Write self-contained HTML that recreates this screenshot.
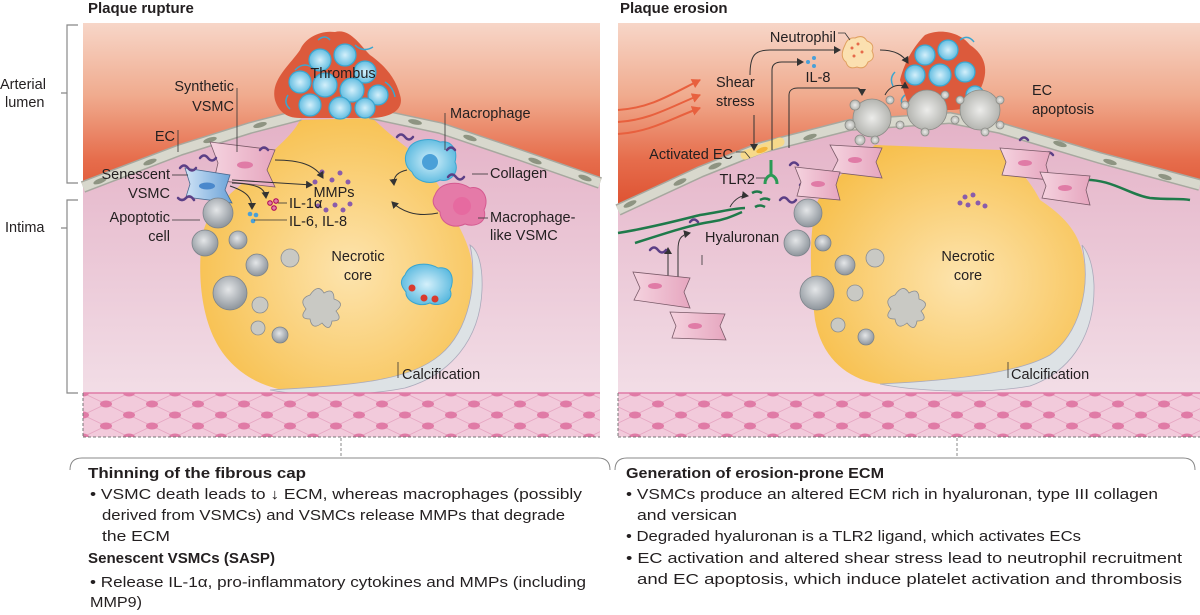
<!DOCTYPE html>
<html><head><meta charset="utf-8"><style>
html,body{margin:0;padding:0;background:#fff}
svg{display:block}
text{font-family:"Liberation Sans",sans-serif;fill:#231f20}
.l{font-size:14.5px}
.b{font-size:15px;font-weight:bold}
.t{font-size:14.5px}
</style></head><body>
<svg width="1200" height="615" viewBox="0 0 1200 615" xmlns="http://www.w3.org/2000/svg">
<defs>
<linearGradient id="lum" gradientUnits="userSpaceOnUse" x1="0" y1="23" x2="0" y2="205">
<stop offset="0" stop-color="#f7d6c8"/><stop offset="0.4" stop-color="#f0ab8e"/><stop offset="0.75" stop-color="#e66d4c"/><stop offset="1" stop-color="#de5232"/></linearGradient>
<linearGradient id="int" gradientUnits="userSpaceOnUse" x1="0" y1="120" x2="0" y2="393">
<stop offset="0" stop-color="#e4b2c7"/><stop offset="1" stop-color="#f2dde6"/></linearGradient>
<radialGradient id="core" cx="0.55" cy="0.55" r="0.6">
<stop offset="0" stop-color="#fde4ae"/><stop offset="1" stop-color="#f7c04e"/></radialGradient>
<radialGradient id="gc" cx="0.45" cy="0.4" r="0.6">
<stop offset="0" stop-color="#e4e6e8"/><stop offset="1" stop-color="#8e959c"/></radialGradient>
<radialGradient id="wc" cx="0.5" cy="0.5" r="0.6">
<stop offset="0" stop-color="#ececea"/><stop offset="1" stop-color="#a9aaa5"/></radialGradient>
<radialGradient id="bc" cx="0.5" cy="0.5" r="0.6">
<stop offset="0" stop-color="#d4f0fb"/><stop offset="1" stop-color="#4fb4dc"/></radialGradient>
<linearGradient id="vs" x1="0" y1="0" x2="1" y2="0">
<stop offset="0" stop-color="#f5d3df"/><stop offset="1" stop-color="#e6a6bf"/></linearGradient>
<linearGradient id="vb" x1="0" y1="0" x2="1" y2="0">
<stop offset="0" stop-color="#cfe3f6"/><stop offset="1" stop-color="#6aa2d8"/></linearGradient>
<pattern id="med" x="83" y="393" width="46" height="22" patternUnits="userSpaceOnUse">
<rect width="46" height="22" fill="#f2cadb"/>
<path d="M0,0 L23,11 L46,0 M0,22 L23,11 L46,22" stroke="#e6a6c2" stroke-width="0.8" fill="none"/>
<ellipse cx="23" cy="11" rx="6" ry="3.5" fill="#e07ba6"/>
<ellipse cx="0" cy="0" rx="6" ry="3.5" fill="#e07ba6"/><ellipse cx="46" cy="0" rx="6" ry="3.5" fill="#e07ba6"/>
<ellipse cx="0" cy="22" rx="6" ry="3.5" fill="#e07ba6"/><ellipse cx="46" cy="22" rx="6" ry="3.5" fill="#e07ba6"/>
</pattern>
<marker id="ar" markerWidth="8" markerHeight="8" refX="6" refY="4" orient="auto" markerUnits="userSpaceOnUse">
<path d="M0,0 L7,4 L0,8 z" fill="#333"/></marker>
<marker id="ro" markerWidth="10" markerHeight="10" refX="8" refY="5" orient="auto" markerUnits="userSpaceOnUse">
<path d="M0,0 L9,5 L0,10 z" fill="#e8603e"/></marker>
</defs>

<text x="88" y="13" class="b">Plaque rupture</text>
<text x="620" y="13" class="b">Plaque erosion</text>

<text x="0" y="89" class="l">Arterial</text>
<text x="5" y="107" class="l">lumen</text>
<path d="M61,93 H67 M78,25 H67 V183 H78" stroke="#888" fill="none" stroke-width="1.2"/>
<text x="5" y="232" class="l">Intima</text>
<path d="M61,228 H67 M78,200 H67 V393 H78" stroke="#888" fill="none" stroke-width="1.2"/>

<!-- LEFT PANEL -->
<rect x="83" y="23" width="517" height="370" fill="url(#lum)"/>
<path d="M83,187 L180,150 L250,128 L300,115 L370,113 L440,128 L520,155 L600,183 L600,393 L83,393 Z" fill="url(#int)"/>
<path d="M300,120 C290,140 270,150 262,165 C240,190 205,205 202,240 C198,270 200,310 215,340 C230,370 260,390 300,392 C340,395 390,395 420,380 C455,360 470,320 472,280 C475,250 460,230 448,205 C438,180 425,165 410,150 C390,135 380,125 372,118 Z" fill="url(#core)"/>
<path d="M470,245 C478,280 470,330 440,355 C410,380 360,385 270,390 C300,396 360,397 405,388 C450,375 480,340 482,290 C483,265 478,250 470,245 Z" fill="#dde2e5" stroke="#aab" stroke-width="0.8"/>
<rect x="83" y="393" width="517" height="44" fill="url(#med)"/>
<line x1="83" y1="393" x2="600" y2="393" stroke="#e07ba6" stroke-width="1.5"/>
<path d="M83,187 L180,150 L250,128 L300,115 M370,113 L440,128 L520,155 L600,183" stroke="#a7a89f" stroke-width="12" fill="none"/>
<path d="M83,187 L180,150 L250,128 L300,115 M370,113 L440,128 L520,155 L600,183" stroke="#d8d8cd" stroke-width="9" fill="none"/>
<g fill="#8e9482">
<ellipse cx="100" cy="181" rx="7" ry="2.5" transform="rotate(-21 100 181)"/>
<ellipse cx="150" cy="162" rx="7" ry="2.5" transform="rotate(-21 150 162)"/>
<ellipse cx="210" cy="140" rx="7" ry="2.5" transform="rotate(-17 210 140)"/>
<ellipse cx="260" cy="125" rx="7" ry="2.5" transform="rotate(-15 260 125)"/>
<ellipse cx="415" cy="122" rx="7" ry="2.5" transform="rotate(12 415 122)"/>
<ellipse cx="470" cy="138" rx="7" ry="2.5" transform="rotate(18 470 138)"/>
<ellipse cx="535" cy="161" rx="7" ry="2.5" transform="rotate(20 535 161)"/>
<ellipse cx="585" cy="178" rx="7" ry="2.5" transform="rotate(20 585 178)"/>
</g>
<path d="M275,100 C270,80 290,65 300,50 C305,38 320,30 335,32 C350,28 360,45 370,55 C380,62 395,75 400,95 C405,110 390,118 370,118 L300,118 C285,118 278,110 275,100 Z" fill="#dc5a3c"/>
<g fill="url(#bc)" stroke="#3aa6d0" stroke-width="1.2">
<circle cx="320" cy="60" r="11"/><circle cx="345" cy="55" r="11"/><circle cx="365" cy="72" r="11"/>
<circle cx="300" cy="82" r="11"/><circle cx="325" cy="85" r="12"/><circle cx="352" cy="90" r="12"/>
<circle cx="378" cy="95" r="10"/><circle cx="310" cy="105" r="11"/><circle cx="340" cy="108" r="11"/><circle cx="365" cy="108" r="10"/>
</g>
<g stroke="#3aa6d0" stroke-width="1.5" fill="none">
<path d="M295,70 q10,-10 20,0 M355,45 q8,8 18,2 M385,82 q8,5 10,15 M288,95 q-5,8 2,14 M330,40 q-5,-6 -12,0"/>
</g>
<path d="M210,142 L275,150 L267,170 L275,187 L214,180 L218,163 Z" fill="url(#vs)" stroke="#7a5a68" stroke-width="0.8"/>
<ellipse cx="245" cy="165" rx="8" ry="3.5" fill="#e07ba6"/>
<path d="M185,168 L230,175 L225,190 L232,203 L186,197 L190,184 Z" fill="url(#vb)" stroke="#4a6a90" stroke-width="0.8"/>
<ellipse cx="207" cy="186" rx="8" ry="3.5" fill="#4a88cc"/>
<path d="M408,150 C412,140 428,137 440,142 C452,140 458,150 455,162 C460,172 450,183 440,180 C428,186 415,180 412,172 C404,166 404,156 408,150 Z" fill="url(#bc)" stroke="#3aa6d0"/>
<circle cx="430" cy="162" r="8" fill="#4aa0d8"/>
<path d="M435,195 C440,182 458,180 470,188 C482,185 490,198 484,210 C488,222 475,228 465,224 C452,230 440,222 440,212 C432,206 432,200 435,195 Z" fill="#e57aa8" stroke="#d45a90"/>
<circle cx="462" cy="206" r="9" fill="#e66aa0"/>
<path d="M405,275 C410,262 428,262 438,268 C452,266 455,280 450,290 C455,300 440,308 430,303 C418,308 405,300 406,292 C400,285 400,280 405,275 Z" fill="url(#bc)" stroke="#3aa6d0"/>
<circle cx="412" cy="288" r="3.5" fill="#d93b2e"/><circle cx="424" cy="298" r="3.5" fill="#d93b2e"/><circle cx="435" cy="299" r="3.5" fill="#d93b2e"/>
<g fill="url(#gc)" stroke="#7b838a" stroke-width="0.8">
<circle cx="218" cy="213" r="15"/><circle cx="205" cy="243" r="13"/><circle cx="238" cy="240" r="9"/>
<circle cx="257" cy="265" r="11"/><circle cx="230" cy="293" r="17"/><circle cx="280" cy="335" r="8"/>
</g>
<g fill="#c9c9c4" stroke="#8a8d90" stroke-width="0.8">
<circle cx="290" cy="258" r="9"/><circle cx="260" cy="305" r="8"/><circle cx="258" cy="328" r="7"/>
<path d="M310,295 q8,-12 14,-2 q10,-6 10,6 q12,4 2,12 q8,10 -4,10 q-2,12 -10,2 q-10,8 -12,-4 q-12,0 -4,-10 q-8,-10 4,-14 z"/>
</g>
<g stroke="#5b3f86" stroke-width="2.5" fill="none" stroke-linecap="round">
<path d="M180,168 q4,-5 8,0 q4,5 8,0"/><path d="M200,158 q4,-5 8,0 q4,5 8,0"/><path d="M260,150 q4,-5 8,0"/>
<path d="M178,198 q4,4 8,0 q4,-4 8,2"/><path d="M397,137 q4,-5 8,0 q4,5 8,0"/><path d="M447,150 q4,-5 8,0"/><path d="M448,177 q4,-5 8,0 q4,5 8,0"/>
</g>
<g fill="#8a5cab"><circle cx="322" cy="172" r="2.5"/><circle cx="332" cy="180" r="2.5"/><circle cx="340" cy="173" r="2.5"/><circle cx="348" cy="182" r="2.5"/><circle cx="315" cy="182" r="2.5"/>
<circle cx="318" cy="206" r="2.5"/><circle cx="326" cy="210" r="2.5"/><circle cx="335" cy="205" r="2.5"/><circle cx="343" cy="210" r="2.5"/><circle cx="350" cy="204" r="2.5"/></g>
<g fill="#e07ba6" stroke="#a05"><circle cx="270" cy="203" r="2.3"/><circle cx="276" cy="201" r="2.3"/><circle cx="274" cy="208" r="2.3"/></g>
<g fill="#4aa0d8"><circle cx="250" cy="214" r="2.3"/><circle cx="256" cy="215" r="2.3"/><circle cx="253" cy="221" r="2.3"/></g>
<g stroke="#333" stroke-width="1" fill="none">
<path d="M275,160 C300,160 315,165 323,178" marker-end="url(#ar)"/>
<path d="M232,180 L312,185" marker-end="url(#ar)"/>
<path d="M232,183 C258,184 265,188 266,198" marker-end="url(#ar)"/>
<path d="M230,186 C248,192 252,198 252,209" marker-end="url(#ar)"/>
<path d="M407,170 C398,172 393,176 394,185" marker-end="url(#ar)"/>
<path d="M438,213 C415,218 400,210 392,202" marker-end="url(#ar)"/>
</g>
<g stroke="#333" stroke-width="0.8" fill="none">
<path d="M237,88 V152"/><path d="M178,130 V152"/><path d="M172,175 H188"/><path d="M172,220 H200"/>
<path d="M278,203 H287"/><path d="M254,220 H287"/><path d="M445,113 V150"/><path d="M472,174 H488"/><path d="M478,218 H488"/><path d="M398,362 V378"/>
</g>
<text x="343" y="78" class="l" text-anchor="middle">Thrombus</text>
<text x="234" y="91" class="l" text-anchor="end">Synthetic</text>
<text x="234" y="111" class="l" text-anchor="end">VSMC</text>
<text x="175" y="141" class="l" text-anchor="end">EC</text>
<text x="170" y="179" class="l" text-anchor="end">Senescent</text>
<text x="170" y="198" class="l" text-anchor="end">VSMC</text>
<text x="170" y="222" class="l" text-anchor="end">Apoptotic</text>
<text x="170" y="241" class="l" text-anchor="end">cell</text>
<text x="289" y="208" class="l">IL-1α</text>
<text x="289" y="226" class="l">IL-6, IL-8</text>
<text x="334" y="197" class="l" text-anchor="middle">MMPs</text>
<text x="450" y="118" class="l">Macrophage</text>
<text x="490" y="178" class="l">Collagen</text>
<text x="490" y="222" class="l">Macrophage-</text>
<text x="490" y="240" class="l">like VSMC</text>
<text x="358" y="261" class="l" text-anchor="middle">Necrotic</text>
<text x="358" y="280" class="l" text-anchor="middle">core</text>
<text x="402" y="379" class="l">Calcification</text>
<line x1="83" y1="437" x2="600" y2="437" stroke="#777" stroke-dasharray="3,2"/>
<line x1="83" y1="393" x2="83" y2="437" stroke="#777" stroke-dasharray="3,2"/>

<!-- RIGHT PANEL -->
<rect x="618" y="23" width="582" height="370" fill="url(#lum)"/>
<path d="M618,210 L700,172 L760,148 L850,125 L950,118 L1000,128 L1100,158 L1200,185 L1200,393 L618,393 Z" fill="url(#int)"/>
<path d="M875,145 C850,165 830,185 818,200 C808,230 810,280 815,320 C822,360 850,380 880,384 C930,392 990,392 1030,380 C1070,365 1085,320 1085,280 C1086,240 1070,220 1040,200 C1030,180 1015,165 1000,150 Z" fill="url(#core)"/>
<path d="M1082,245 C1092,290 1078,335 1050,355 C1020,372 960,380 880,384 C920,392 985,394 1030,386 C1075,370 1095,330 1094,285 C1093,265 1088,252 1082,245 Z" fill="#dde2e5" stroke="#aab" stroke-width="0.8"/>
<rect x="618" y="393" width="582" height="44" fill="url(#med)"/>
<line x1="618" y1="393" x2="1200" y2="393" stroke="#e07ba6" stroke-width="1.5"/>
<path d="M618,210 L700,172 L760,148 L850,125 L950,118 L1000,128 L1100,158 L1200,185" stroke="#a7a89f" stroke-width="12" fill="none"/>
<path d="M618,210 L700,172 L760,148 L850,125 L950,118 L1000,128 L1100,158 L1200,185" stroke="#d8d8cd" stroke-width="9" fill="none"/>
<path d="M745,155 L780,142" stroke="#f7d98a" stroke-width="9" stroke-linecap="round"/>
<ellipse cx="762" cy="150" rx="6" ry="2.5" fill="#f4b53a" transform="rotate(-20 762 150)"/>
<g fill="#8e9482">
<ellipse cx="630" cy="204" rx="7" ry="2.5" transform="rotate(-25 630 204)"/>
<ellipse cx="680" cy="182" rx="7" ry="2.5" transform="rotate(-25 680 182)"/>
<ellipse cx="715" cy="166" rx="7" ry="2.5" transform="rotate(-22 715 166)"/>
<ellipse cx="810" cy="137" rx="7" ry="2.5" transform="rotate(-18 810 137)"/>
<ellipse cx="1060" cy="144" rx="7" ry="2.5" transform="rotate(17 1060 144)"/>
<ellipse cx="1110" cy="162" rx="7" ry="2.5" transform="rotate(17 1110 162)"/>
<ellipse cx="1165" cy="177" rx="7" ry="2.5" transform="rotate(17 1165 177)"/>
</g>
<path d="M900,80 C905,60 915,45 925,35 C940,28 960,32 970,45 C985,55 990,70 980,90 C975,105 965,110 950,110 L910,110 Z" fill="#dc5a3c"/>
<g fill="url(#bc)" stroke="#3aa6d0" stroke-width="1.2">
<circle cx="925" cy="55" r="10"/><circle cx="948" cy="50" r="10"/><circle cx="915" cy="75" r="10"/><circle cx="940" cy="75" r="11"/><circle cx="965" cy="72" r="10"/><circle cx="975" cy="95" r="9"/>
</g>
<g stroke="#3aa6d0" stroke-width="1.5" fill="none"><path d="M895,72 q-6,6 -2,14 M985,100 q8,5 5,12 M960,40 q8,-6 14,2 M905,95 q-6,5 -2,10"/></g>
<g fill="url(#wc)" stroke="#8b8c87" stroke-width="0.8">
<circle cx="872" cy="118" r="19"/><circle cx="927" cy="110" r="20"/><circle cx="980" cy="110" r="20"/>
<circle cx="855" cy="105" r="5"/><circle cx="850" cy="125" r="5"/><circle cx="860" cy="140" r="5"/><circle cx="890" cy="100" r="4"/><circle cx="900" cy="125" r="4"/>
<circle cx="905" cy="105" r="4"/><circle cx="945" cy="95" r="4"/><circle cx="955" cy="120" r="4"/><circle cx="960" cy="100" r="4"/><circle cx="1000" cy="100" r="4"/><circle cx="1000" cy="125" r="4"/><circle cx="985" cy="132" r="4"/><circle cx="925" cy="132" r="4"/><circle cx="875" cy="140" r="4"/>
</g>
<path d="M845,45 q3,-8 10,-7 q8,-4 12,3 q8,3 5,10 q4,8 -4,11 q-3,8 -11,5 q-9,3 -11,-5 q-7,-5 -1,-17 z" fill="#fbe0b0" stroke="#e0a060"/>
<g fill="#e66a4a"><circle cx="852" cy="48" r="1.5"/><circle cx="858" cy="44" r="1.5"/><circle cx="862" cy="52" r="1.5"/><circle cx="854" cy="56" r="1.5"/></g>
<g stroke="#e8603e" stroke-width="2" fill="none">
<path d="M618,110 C650,108 670,95 700,80" marker-end="url(#ro)"/>
<path d="M618,122 C650,120 670,107 700,95" marker-end="url(#ro)"/>
<path d="M618,134 C650,132 670,119 700,108" marker-end="url(#ro)"/>
</g>
<g stroke="#333" stroke-width="1" fill="none">
<path d="M750,75 C750,55 755,50 770,50 L840,50" marker-end="url(#ar)"/>
<path d="M754,115 V150" marker-end="url(#ar)"/>
<path d="M772,150 V70 C772,64 776,62 782,62 L803,62" marker-end="url(#ar)"/>
<path d="M789,148 V95 C789,90 793,88 798,88 L857,88 C860,88 862,92 862,95" marker-end="url(#ar)"/>
<path d="M880,50 C895,50 903,55 908,63" marker-end="url(#ar)"/>
<path d="M885,95 C890,85 900,83 908,88" marker-end="url(#ar)"/>
<path d="M668,280 V248" marker-end="url(#ar)"/>
<path d="M678,280 V250 C678,240 680,235 690,233" marker-end="url(#ar)"/>
<path d="M730,207 C735,198 742,195 748,196" marker-end="url(#ar)"/>
</g>
<g fill="#4aa0d8"><circle cx="808" cy="62" r="2"/><circle cx="814" cy="58" r="2"/><circle cx="814" cy="66" r="2"/></g>
<path d="M771,160 V175 M771,175 q-6,2 -6,9 M771,175 q6,2 6,9" stroke="#2a9a55" stroke-width="3" fill="none"/>
<g stroke="#1f7a4a" stroke-width="2.5" fill="none">
<path d="M618,233 C650,228 680,220 700,215 C720,212 735,208 745,208"/>
<path d="M635,243 C660,235 690,225 710,222 C725,220 735,215 742,212"/>
<path d="M1082,180 C1110,178 1130,195 1150,198 C1170,200 1180,198 1190,200"/>
<path d="M752,193 q5,-3 10,0 M760,200 q5,-3 10,0 M755,207 q5,-3 10,0"/>
</g>
<g stroke="#5b3f86" stroke-width="2.5" fill="none" stroke-linecap="round">
<path d="M650,250 q4,-5 8,0 q4,5 8,0"/><path d="M690,222 q4,-5 8,0"/><path d="M780,200 q4,-5 8,0 q4,5 8,0"/><path d="M800,185 q4,-5 8,0 q4,5 8,0"/>
<path d="M790,165 q4,-5 8,0"/><path d="M1020,140 q4,-5 8,0"/><path d="M1045,155 q4,-5 8,0"/>
</g>
<g fill="url(#vs)" stroke="#7a5a68" stroke-width="0.8">
<path d="M830,145 L882,148 L876,162 L882,178 L832,172 L838,160 Z"/>
<path d="M795,167 L840,172 L836,185 L840,200 L797,196 L801,182 Z"/>
<path d="M1000,148 L1050,152 L1046,165 L1050,180 L1002,175 L1006,162 Z"/>
<path d="M1040,172 L1090,176 L1086,190 L1090,205 L1042,198 L1046,186 Z"/>
<path d="M633,272 L690,278 L684,292 L690,308 L634,300 L640,288 Z"/>
<path d="M670,312 L725,314 L720,326 L726,340 L672,338 L676,326 Z"/>
</g>
<g fill="#e07ba6"><ellipse cx="855" cy="160" rx="7" ry="3"/><ellipse cx="818" cy="184" rx="7" ry="3"/><ellipse cx="1025" cy="163" rx="7" ry="3"/><ellipse cx="1065" cy="188" rx="7" ry="3"/><ellipse cx="655" cy="286" rx="7" ry="3"/><ellipse cx="695" cy="326" rx="7" ry="3"/></g>
<g fill="url(#gc)" stroke="#7b838a" stroke-width="0.8">
<circle cx="808" cy="213" r="14"/><circle cx="797" cy="243" r="13"/><circle cx="823" cy="243" r="8"/><circle cx="845" cy="265" r="10"/><circle cx="817" cy="293" r="17"/><circle cx="866" cy="337" r="8"/>
</g>
<g fill="#c9c9c4" stroke="#8a8d90" stroke-width="0.8">
<circle cx="875" cy="258" r="9"/><circle cx="855" cy="293" r="8"/><circle cx="838" cy="325" r="7"/>
<path d="M895,295 q8,-12 14,-2 q10,-6 10,6 q12,4 2,12 q8,10 -4,10 q-2,12 -10,2 q-10,8 -12,-4 q-12,0 -4,-10 q-8,-10 4,-14 z"/>
</g>
<g fill="#8a5cab"><circle cx="965" cy="197" r="2.5"/><circle cx="973" cy="195" r="2.5"/><circle cx="978" cy="203" r="2.5"/><circle cx="968" cy="205" r="2.5"/><circle cx="960" cy="203" r="2.5"/><circle cx="985" cy="206" r="2.5"/></g>
<g stroke="#333" stroke-width="0.8" fill="none">
<path d="M838,33 H845 L850,40"/><path d="M736,152 H745 L750,158"/><path d="M756,178 H765"/><path d="M702,255 V265"/><path d="M1008,362 V378"/>
</g>
<text x="836" y="42" class="l" text-anchor="end">Neutrophil</text>
<text x="716" y="87" class="l">Shear</text>
<text x="716" y="106" class="l">stress</text>
<text x="818" y="82" class="l" text-anchor="middle">IL-8</text>
<text x="1032" y="95" class="l">EC</text>
<text x="1032" y="114" class="l">apoptosis</text>
<text x="733" y="159" class="l" text-anchor="end">Activated EC</text>
<text x="755" y="184" class="l" text-anchor="end">TLR2</text>
<text x="705" y="242" class="l">Hyaluronan</text>
<text x="968" y="261" class="l" text-anchor="middle">Necrotic</text>
<text x="968" y="280" class="l" text-anchor="middle">core</text>
<text x="1011" y="379" class="l">Calcification</text>
<line x1="618" y1="437" x2="1200" y2="437" stroke="#777" stroke-dasharray="3,2"/>
<line x1="618" y1="393" x2="618" y2="437" stroke="#777" stroke-dasharray="3,2"/>

<!-- bottom boxes -->
<g stroke="#888" fill="none" stroke-width="1">
<line x1="341" y1="438" x2="341" y2="458" stroke-dasharray="3,2"/>
<line x1="957" y1="438" x2="957" y2="458" stroke-dasharray="3,2"/>
<path d="M70,470 Q70,458 82,458 L598,458 Q610,458 610,470"/>
<path d="M615,470 Q615,458 627,458 L1183,458 Q1195,458 1195,470"/>
</g>
<text x="88" y="478" class="t" font-weight="bold" textLength="218" lengthAdjust="spacingAndGlyphs">Thinning of the fibrous cap</text>
<text x="90" y="499" class="t" textLength="492" lengthAdjust="spacingAndGlyphs">• VSMC death leads to ↓ ECM, whereas macrophages (possibly</text>
<text x="102" y="520" class="t" textLength="463" lengthAdjust="spacingAndGlyphs">derived from VSMCs) and VSMCs release MMPs that degrade</text>
<text x="102" y="541" class="t" textLength="68" lengthAdjust="spacingAndGlyphs">the ECM</text>
<text x="88" y="563" class="t" font-weight="bold" textLength="187" lengthAdjust="spacingAndGlyphs">Senescent VSMCs (SASP)</text>
<text x="90" y="587" class="t" textLength="496" lengthAdjust="spacingAndGlyphs">•  Release IL-1α, pro-inflammatory cytokines and MMPs (including</text>
<text x="90" y="607" class="t" textLength="52" lengthAdjust="spacingAndGlyphs">MMP9)</text>

<text x="626" y="478" class="t" font-weight="bold" textLength="258" lengthAdjust="spacingAndGlyphs">Generation of erosion-prone ECM</text>
<text x="626" y="499" class="t" textLength="532" lengthAdjust="spacingAndGlyphs">• VSMCs produce an altered ECM rich in hyaluronan, type III collagen</text>
<text x="637" y="520" class="t" textLength="100" lengthAdjust="spacingAndGlyphs">and versican</text>
<text x="626" y="541" class="t" textLength="455" lengthAdjust="spacingAndGlyphs">• Degraded hyaluronan is a TLR2 ligand, which activates ECs</text>
<text x="626" y="563" class="t" textLength="556" lengthAdjust="spacingAndGlyphs">• EC activation and altered shear stress lead to neutrophil recruitment</text>
<text x="637" y="584" class="t" textLength="545" lengthAdjust="spacingAndGlyphs">and EC apoptosis, which induce platelet activation and thrombosis</text>
</svg>
</body></html>
